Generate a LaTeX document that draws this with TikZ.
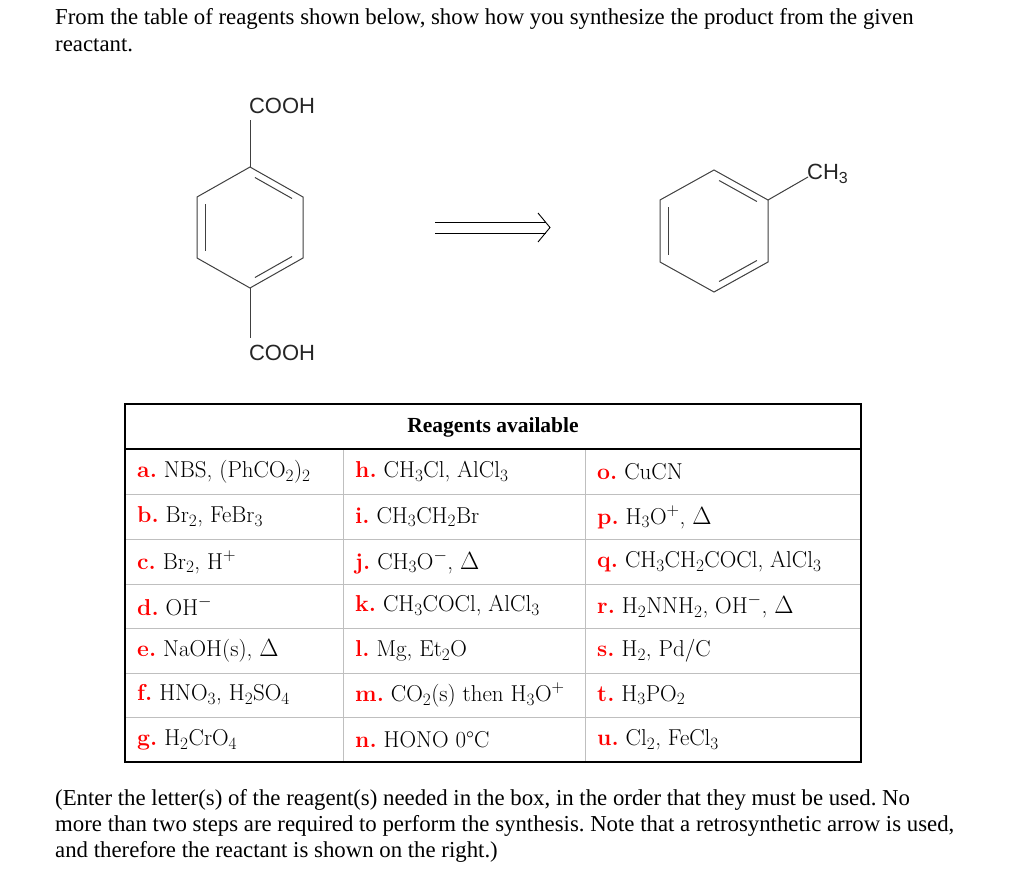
\documentclass[tikz,border=0pt]{standalone}
\usepackage{fontspec}
\usetikzlibrary{calc}
\newfontfamily\tnr{Liberation Serif}
\newfontfamily\arl{Liberation Sans}
\begin{document}
\frenchspacing
\begin{tikzpicture}[x=1pt,y=-1pt,
 every node/.style={inner sep=0pt},
 bond/.style={line width=1pt,black!75},
 grid/.style={line width=0.8pt,black!25},
 cell/.style={anchor=west,font=\fontsize{23}{26}\selectfont},
 mol/.style={font=\arl\fontsize{22}{24}\selectfont,black!85},
 para/.style={anchor=west,font=\tnr\fontsize{22.8}{26}\selectfont}]
\useasboundingbox (0,0) rectangle (1024,870);
\fill[white] (0,0) rectangle (1024,870);
\newcommand{\rl}[1]{\textbf{\color{red}#1}}
% header text
\node[para] (t1) at (55,19) {From the table of reagents shown below, show how you synthesize the product from the given};
\node[para] (t2) at (55,45) {reactant.};
% left molecule
\coordinate (A1) at (250,167); \coordinate (A2) at (303,197);
\coordinate (A3) at (303,258); \coordinate (A4) at (250,288);
\coordinate (A5) at (197,258); \coordinate (A6) at (197,197);
\draw[bond] (A1)--(A2)--(A3)--(A4)--(A5)--(A6)--cycle;
\draw[bond] ($(A1)!0.15!(A2)+(-3,6)$) -- ($(A1)!0.85!(A2)+(-3,6)$);
\draw[bond] (205,204)--(205,251);
\draw[bond] ($(A3)!0.15!(A4)+(-3,-6)$) -- ($(A3)!0.85!(A4)+(-3,-6)$);
\node[mol] (c1) at (282,106) {COOH};
\node[mol] (c2) at (282,353) {COOH};
\draw[bond] (A1) -- (250,120);
\draw[bond] (A4) -- (250,338);
% arrow
\coordinate (r1) at (435,222); \coordinate (r2) at (435,233);
\draw[line width=0.9pt] (r1) -- (546,222) (r2) -- (546,233);
\draw[line width=0.9pt] (538,213) -- (550,227.5) -- (538,242);
% right molecule
\coordinate (B1) at (714,170); \coordinate (B2) at (768,200);
\coordinate (B3) at (768,262); \coordinate (B4) at (714,292);
\coordinate (B5) at (660,262); \coordinate (B6) at (660,200);
\draw[bond] (B1)--(B2)--(B3)--(B4)--(B5)--(B6)--cycle;
\draw[bond] ($(B1)!0.15!(B2)+(-3,6)$) -- ($(B1)!0.85!(B2)+(-3,6)$);
\draw[bond] (668,207)--(668,255);
\draw[bond] ($(B3)!0.15!(B4)+(-3,-6)$) -- ($(B3)!0.85!(B4)+(-3,-6)$);
\node[mol,anchor=west] (m) at (807,174) {CH\raisebox{-0.3ex}{\fontsize{16}{18}\selectfont 3}};
\draw[bond] (B2) -- (808,177);
% table
\foreach \y in {494,539,584,628,673,717} \draw[grid] (126,\y) -- (860,\y);
\draw[grid] (343,450) -- (343,761);
\draw[grid] (585,450) -- (585,761);
\draw[line width=2pt] (125,404) rectangle (861,762);
\draw[line width=2pt] (125,449) -- (861,449);
\node[font=\tnr\bfseries\fontsize{21.5}{24}\selectfont] (hd) at (493,427) {Reagents available};
\node[cell] (a) at (137,472) {\rl{a.} NBS, (PhCO$_2$)$_2$};
\node[cell] (b) at (137,517) {\rl{b.} Br$_2$, FeBr$_3$};
\node[cell] (c) at (137,562) {\rl{c.} Br$_2$, H$^+$};
\node[cell] (d) at (137,606) {\rl{d.} OH$^-$};
\node[cell] (e) at (137,651) {\rl{e.} NaOH(s), $\Delta$};
\node[cell] (f) at (137,695) {\rl{f.} HNO$_3$, H$_2$SO$_4$};
\node[cell] (g) at (137,740) {\rl{g.} H$_2$CrO$_4$};
\node[cell] (h) at (355,472) {\rl{h.} CH$_3$Cl, AlCl$_3$};
\node[cell] (i) at (355,517) {\rl{i.} CH$_3$CH$_2$Br};
\node[cell] (j) at (355,562) {\rl{j.} CH$_3$O$^-$, $\Delta$};
\node[cell] (k) at (355,606) {\rl{k.} CH$_3$COCl, AlCl$_3$};
\node[cell] (l) at (355,651) {\rl{l.} Mg, Et$_2$O};
\node[cell] (mm) at (355,695) {\rl{m.} CO$_2$(s) then H$_3$O$^+$};
\node[cell] (n) at (355,740) {\rl{n.} HONO 0°C};
\node[cell] (o) at (597,472) {\rl{o.} CuCN};
\node[cell] (p) at (597,517) {\rl{p.} H$_3$O$^+$, $\Delta$};
\node[cell] (q) at (597,562) {\rl{q.} CH$_3$CH$_2$COCl, AlCl$_3$};
\node[cell] (r) at (597,606) {\rl{r.} H$_2$NNH$_2$, OH$^-$, $\Delta$};
\node[cell] (s) at (597,651) {\rl{s.} H$_2$, Pd/C};
\node[cell] (tt) at (597,695) {\rl{t.} H$_3$PO$_2$};
\node[cell] (u) at (597,740) {\rl{u.} Cl$_2$, FeCl$_3$};
% bottom paragraph
\node[para] (p1) at (55,800) {(Enter the letter(s) of the reagent(s) needed in the box, in the order that they must be used. No};
\node[para] (p2) at (55,826) {more than two steps are required to perform the synthesis. Note that a retrosynthetic arrow is used,};
\node[para] (p3) at (55,852) {and therefore the reactant is shown on the right.)};
\end{tikzpicture}
\end{document}
